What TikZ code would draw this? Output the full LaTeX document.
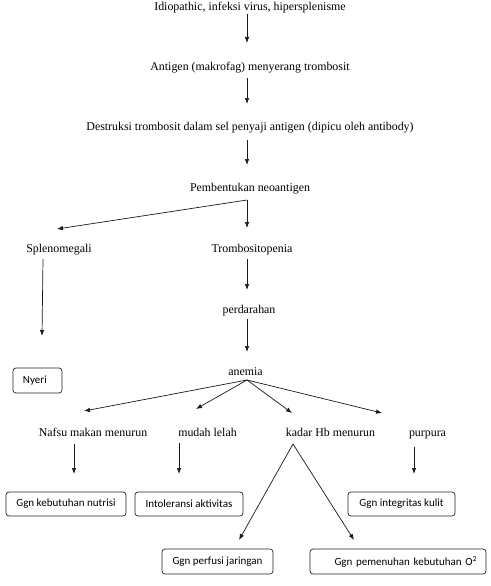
\documentclass[tikz,border=0pt]{standalone}
\usepackage{fontspec}
\setmainfont{Liberation Serif}
\newfontfamily\boxfont{Carlito}
\usetikzlibrary{arrows.meta,calc}
\begin{document}
\begin{tikzpicture}[x=1pt,y=-1pt,
  lbl/.style={font=\fontsize{11.9}{13}\selectfont, inner sep=1pt, text height=8pt, text depth=2.5pt},
  bx/.style={draw=black!85, line width=0.7pt, rounded corners=3pt, font=\boxfont\fontsize{11}{12}\selectfont, inner sep=0pt},
  arr/.style={draw=black!90, line width=0.7pt, -{Latex[length=6pt,width=4.5pt]}}]
\useasboundingbox (0,0) rectangle (490,586);
% text nodes
\node[lbl] (idio) at (250,8) {Idiopathic, infeksi virus, hipersplenisme};
\node[lbl] (anti) at (250,68) {Antigen (makrofag) menyerang trombosit};
\node[lbl] (dest) at (250,128) {Destruksi trombosit dalam sel penyaji antigen (dipicu oleh antibody)};
\node[lbl] (pemb) at (250,189) {Pembentukan neoantigen};
\node[lbl] (splen) at (59,250) {Splenomegali};
\node[lbl] (trom) at (252,250) {Trombositopenia};
\node[lbl] (perd) at (249,311) {perdarahan};
\node[lbl] (anem) at (245.5,373) {anemia};
\node[lbl] (nafsu) at (93,434) {Nafsu makan menurun};
\node[lbl] (mudah) at (207.5,434) {mudah lelah};
\node[lbl] (kadar) at (330.5,434) {kadar Hb menurun};
\node[lbl] (purp) at (427.5,434) {purpura};
% boxes
\node[bx, minimum width=49pt, minimum height=25pt, text width=29pt, inner xsep=10pt, align=left] (nyeri) at (37.5,380.5) {Nyeri};
\node[bx, minimum width=120pt, minimum height=24pt] (nutr) at (66,504) {Ggn kebutuhan nutrisi};
\node[bx, minimum width=108pt, minimum height=24pt] (intol) at (189,504) {Intoleransi aktivitas};
\node[bx, minimum width=107pt, minimum height=24pt] (integ) at (401.5,504) {Ggn integritas kulit};
\node[bx, minimum width=111pt, minimum height=25pt] (perf) at (217.5,561.5) {Ggn perfusi jaringan};
\node[bx, minimum width=176pt, minimum height=25pt, text width=158pt, inner xsep=9pt, align=right] (oksi) at (398,561.5) {Ggn pemenuhan kebutuhan O\textsuperscript{2}};
% connectors
\draw[arr] ($(idio)+(-3,6)$) -- ($(anti)+(-3,-25)$);
\draw[arr] ($(anti)+(-3,10)$) -- ($(dest)+(-3,-24)$);
\draw[arr] ($(dest)+(-3,12)$) -- ($(pemb)+(-3,-24)$);
\draw[arr] ($(pemb)+(-3,11)$) -- ($(splen)+(-2,-21)$);
\draw[arr] ($(pemb)+(-3,11)$) -- ($(trom)+(-5,-22)$);
\draw[arr] ($(splen)+(-16,9)$) -- ($(nyeri)+(4.5,-44.5)$);
\draw[arr] ($(trom)+(-5,9)$) -- ($(perd)+(-2,-21)$);
\draw[arr] ($(perd)+(-2,8)$) -- ($(anem)+(1.5,-21)$);
\draw[arr] ($(anem)+(1.5,7)$) -- ($(nafsu)+(-9,-23)$);
\draw[arr] ($(anem)+(1.5,7)$) -- ($(mudah)+(-11.5,-25)$);
\draw[arr] ($(anem)+(1.5,7)$) -- ($(kadar)+(-38.5,-21)$);
\draw[arr] ($(anem)+(1.5,7)$) -- ($(purp)+(-45.5,-21)$);
\draw[arr] ($(nafsu)+(-19,10)$) -- ($(nutr)+(8,-30)$);
\draw[arr] ($(mudah)+(-28.5,9)$) -- ($(intol)+(-10,-30)$);
\draw[arr] ($(purp)+(-13.5,13)$) -- ($(integ)+(12.5,-30)$);
\draw[arr] ($(kadar)+(-37.5,10)$) -- ($(perf)+(21.5,-21.5)$);
\draw[arr] ($(kadar)+(-37.5,10)$) -- ($(oksi)+(-44,-21.5)$);
\end{tikzpicture}
\end{document}
